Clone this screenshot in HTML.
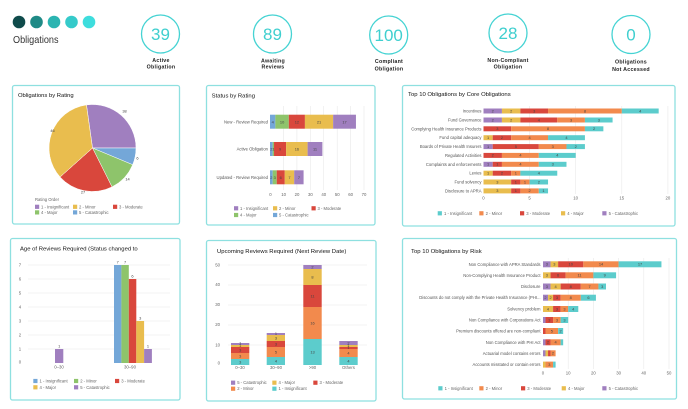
<!DOCTYPE html>
<html><head><meta charset="utf-8"><style>
html,body{margin:0;padding:0;background:#fff;width:688px;height:409px;overflow:hidden}
svg{display:block;font-family:"Liberation Sans",Arial,sans-serif}
.t{font-size:5.8px;fill:#111}
.k{font-size:4.3px;fill:#666}
.c{font-size:4.2px;fill:#555}
.s{font-size:3.9px;fill:#444;text-anchor:middle}
.l{font-size:4.2px;fill:#666}
.g{stroke:#e8e8e8;stroke-width:0.6}
.p{fill:#fff;stroke:#8ee0e0;stroke-width:1.3}
.h{font-size:5.3px;font-weight:bold;fill:#222;text-anchor:middle;letter-spacing:0.25px}
.n{font-size:17px;fill:#3fcfcf;text-anchor:middle}
</style></head><body>
<svg width="688" height="409" viewBox="0 0 688 409" xmlns="http://www.w3.org/2000/svg">
<!-- header -->
<circle cx="19" cy="22" r="6.3" fill="#0f4b4b"/>
<circle cx="36.5" cy="22" r="6.3" fill="#1f8a86"/>
<circle cx="54" cy="22" r="6.3" fill="#2bb4b1"/>
<circle cx="71.5" cy="22" r="6.3" fill="#35caca"/>
<circle cx="89" cy="22" r="6.3" fill="#3edddd"/>
<text x="13" y="43" font-size="10.5" fill="#333" textLength="45.5" lengthAdjust="spacingAndGlyphs">Obligations</text>

<circle cx="160.5" cy="34" r="19" fill="none" stroke="#45d3d3" stroke-width="1.3"/>
<text class="n" x="160.5" y="40">39</text>
<text class="h" x="161" y="62">Active</text><text class="h" x="161" y="68.7">Obligation</text>

<circle cx="272.5" cy="34" r="19" fill="none" stroke="#45d3d3" stroke-width="1.3"/>
<text class="n" x="272.5" y="40">89</text>
<text class="h" x="273" y="62.5">Awaiting</text><text class="h" x="273" y="68.7">Reviews</text>

<circle cx="388.7" cy="35" r="19" fill="none" stroke="#45d3d3" stroke-width="1.3"/>
<text class="n" x="388.7" y="41" font-size="16">100</text>
<text class="h" x="389" y="63">Compliant</text><text class="h" x="389" y="70.5">Obligation</text>

<circle cx="508" cy="33" r="19" fill="none" stroke="#45d3d3" stroke-width="1.3"/>
<text class="n" x="508" y="39">28</text>
<text class="h" x="508" y="62">Non-Compliant</text><text class="h" x="508" y="68.5">Obligation</text>

<circle cx="631" cy="34.5" r="19" fill="none" stroke="#45d3d3" stroke-width="1.3"/>
<text class="n" x="631" y="40.5">0</text>
<text class="h" x="631" y="63.5">Obligations</text><text class="h" x="631" y="71">Not Accessed</text>

<!-- Panel 1 -->
<rect class="p" x="12.5" y="85.5" width="167" height="138.5" rx="2"/>
<text class="t" x="18" y="97" textLength="55.7" lengthAdjust="spacingAndGlyphs">Obligations by Rating</text>
<g stroke="#fff" stroke-width="0.5">
<path d="M92.5,148 L86.45,104.92 A43.5,43.5 0 0 1 136,148 Z" fill="#a07fbf"/>
<path d="M92.5,148 L136,148 A43.5,43.5 0 0 1 132.66,164.72 Z" fill="#74a7d8"/>
<path d="M92.5,148 L132.66,164.72 A43.5,43.5 0 0 1 111.98,186.9 Z" fill="#8ec46b"/>
<path d="M92.5,148 L111.98,186.9 A43.5,43.5 0 0 1 60.09,177.01 Z" fill="#d9473c"/>
<path d="M92.5,148 L60.09,177.01 A43.5,43.5 0 0 1 86.45,104.92 Z" fill="#e9bd4e"/>
</g>
<text class="s" x="124.5" y="112.5">38</text>
<text class="s" x="52.5" y="132">46</text>
<text class="s" x="137.5" y="159.5">6</text>
<text class="s" x="127.5" y="180.5">14</text>
<text class="s" x="83" y="193.5">27</text>
<text class="l" x="35" y="201">Rating Order</text>
<rect x="35" y="204.7" width="4.2" height="4.2" fill="#a07fbf"/><text class="l" x="41" y="208.3">1 - Insignificant</text>
<rect x="73" y="204.7" width="4.2" height="4.2" fill="#e9bd4e"/><text class="l" x="79" y="208.3">2 - Minor</text>
<rect x="113" y="204.7" width="4.2" height="4.2" fill="#d9473c"/><text class="l" x="119" y="208.3">3 - Moderate</text>
<rect x="35" y="210.3" width="4.2" height="4.2" fill="#8ec46b"/><text class="l" x="41" y="213.9">4 - Major</text>
<rect x="73" y="210.3" width="4.2" height="4.2" fill="#74a7d8"/><text class="l" x="79" y="213.9">5 - Catastrophic</text>

<!-- Panel 2 -->
<rect class="p" x="206.5" y="85.5" width="168.5" height="139.5" rx="2"/>
<text class="t" x="211.7" y="97.5" textLength="43.3" lengthAdjust="spacingAndGlyphs">Status by Rating</text>
<g class="g">
<line x1="283.4" y1="106" x2="283.4" y2="190"/><line x1="296.9" y1="106" x2="296.9" y2="190"/>
<line x1="310.3" y1="106" x2="310.3" y2="190"/><line x1="323.7" y1="106" x2="323.7" y2="190"/>
<line x1="337.2" y1="106" x2="337.2" y2="190"/><line x1="350.6" y1="106" x2="350.6" y2="190"/>
<line x1="364" y1="106" x2="364" y2="190"/>
</g>
<g>
<rect x="270" y="114.7" width="5.37" height="14" fill="#74a7d8"/>
<rect x="275.37" y="114.7" width="13.43" height="14" fill="#8ec46b"/>
<rect x="288.8" y="114.7" width="16.12" height="14" fill="#d9473c"/>
<rect x="304.92" y="114.7" width="28.2" height="14" fill="#e9bd4e"/>
<rect x="333.12" y="114.7" width="22.83" height="14" fill="#a07fbf"/>
<rect x="270" y="142" width="2.69" height="14" fill="#74a7d8"/>
<rect x="272.69" y="142" width="1.34" height="14" fill="#8ec46b"/>
<rect x="274.03" y="142" width="12.09" height="14" fill="#d9473c"/>
<rect x="286.12" y="142" width="21.49" height="14" fill="#e9bd4e"/>
<rect x="307.61" y="142" width="14.77" height="14" fill="#a07fbf"/>
<rect x="270" y="170.3" width="2.69" height="14" fill="#74a7d8"/>
<rect x="272.69" y="170.3" width="4.03" height="14" fill="#8ec46b"/>
<rect x="276.72" y="170.3" width="8.06" height="14" fill="#d9473c"/>
<rect x="284.78" y="170.3" width="9.4" height="14" fill="#e9bd4e"/>
<rect x="294.18" y="170.3" width="9.4" height="14" fill="#a07fbf"/>
</g>
<text class="s" x="272.7" y="123.3">4</text><text class="s" x="282.1" y="123.3">10</text><text class="s" x="296.9" y="123.3">12</text><text class="s" x="319" y="123.3">21</text><text class="s" x="344.5" y="123.3">17</text>
<text class="s" x="271.3" y="150.6">2</text><text class="s" x="273.5" y="150.6">1</text><text class="s" x="280.1" y="150.6">9</text><text class="s" x="296.9" y="150.6">16</text><text class="s" x="315" y="150.6">11</text>
<text class="s" x="271.3" y="178.9">2</text><text class="s" x="274.7" y="178.9">3</text><text class="s" x="280.75" y="178.9">6</text><text class="s" x="289.5" y="178.9">7</text><text class="s" x="298.9" y="178.9">7</text>
<g class="c" text-anchor="end">
<text x="268" y="123.3">New - Review Required</text>
<text x="268" y="150.6">Active Obligation</text>
<text x="268" y="178.9">Updated - Review Required</text>
</g>
<g class="k" text-anchor="middle">
<text x="270.5" y="196">0</text><text x="283.6" y="196">10</text><text x="297" y="196">20</text><text x="310.4" y="196">30</text><text x="323.8" y="196">40</text><text x="337.3" y="196">50</text><text x="350.7" y="196">60</text><text x="364" y="196">70</text>
</g>
<rect x="234" y="206.2" width="4.2" height="4.2" fill="#a07fbf"/><text class="l" x="240" y="209.8">1 - Insignificant</text>
<rect x="273" y="206.2" width="4.2" height="4.2" fill="#e9bd4e"/><text class="l" x="279" y="209.8">2 - Minor</text>
<rect x="311.5" y="206.2" width="4.2" height="4.2" fill="#d9473c"/><text class="l" x="317.5" y="209.8">3 - Moderate</text>
<rect x="234" y="212.9" width="4.2" height="4.2" fill="#8ec46b"/><text class="l" x="240" y="216.5">4 - Major</text>
<rect x="273" y="212.9" width="4.2" height="4.2" fill="#74a7d8"/><text class="l" x="279" y="216.5">5 - Catastrophic</text>

<!-- Panel 3 -->
<rect class="p" x="402.5" y="85.5" width="272.5" height="140.5" rx="2"/>
<text class="t" x="408" y="96" textLength="102.7" lengthAdjust="spacingAndGlyphs">Top 10 Obligations by Core Obligations</text>
<g class="g">
<line x1="529.6" y1="106" x2="529.6" y2="194"/><line x1="575.7" y1="106" x2="575.7" y2="194"/>
<line x1="621.8" y1="106" x2="621.8" y2="194"/><line x1="667.9" y1="106" x2="667.9" y2="194"/>
</g>
<g>
<!-- r1 -->
<rect x="483.5" y="108.5" width="18.44" height="5" fill="#a07fbf"/><rect x="501.94" y="108.5" width="18.44" height="5" fill="#e9bd4e"/><rect x="520.38" y="108.5" width="27.66" height="5" fill="#d9473c"/><rect x="548.04" y="108.5" width="73.76" height="5" fill="#f28a4d"/><rect x="621.8" y="108.5" width="36.88" height="5" fill="#5ccccc"/>
<!-- r2 -->
<rect x="483.5" y="117.5" width="18.44" height="5" fill="#a07fbf"/><rect x="501.94" y="117.5" width="18.44" height="5" fill="#e9bd4e"/><rect x="520.38" y="117.5" width="36.88" height="5" fill="#d9473c"/><rect x="557.26" y="117.5" width="27.66" height="5" fill="#f28a4d"/><rect x="584.92" y="117.5" width="27.66" height="5" fill="#5ccccc"/>
<!-- r3 -->
<rect x="483.5" y="126.3" width="27.66" height="5" fill="#d9473c"/><rect x="511.16" y="126.3" width="73.76" height="5" fill="#f28a4d"/><rect x="584.92" y="126.3" width="18.44" height="5" fill="#5ccccc"/>
<!-- r4 -->
<rect x="483.5" y="135.2" width="9.22" height="5" fill="#e9bd4e"/><rect x="492.72" y="135.2" width="18.44" height="5" fill="#d9473c"/><rect x="511.16" y="135.2" width="36.88" height="5" fill="#f28a4d"/><rect x="548.04" y="135.2" width="36.88" height="5" fill="#5ccccc"/>
<!-- r5 -->
<rect x="483.5" y="144.1" width="9.22" height="5" fill="#a07fbf"/><rect x="492.72" y="144.1" width="46.1" height="5" fill="#d9473c"/><rect x="538.82" y="144.1" width="27.66" height="5" fill="#f28a4d"/><rect x="566.48" y="144.1" width="18.44" height="5" fill="#5ccccc"/>
<!-- r6 -->
<rect x="483.5" y="152.9" width="18.44" height="5" fill="#d9473c"/><rect x="501.94" y="152.9" width="36.88" height="5" fill="#f28a4d"/><rect x="538.82" y="152.9" width="36.88" height="5" fill="#5ccccc"/>
<!-- r7 -->
<rect x="483.5" y="161.8" width="9.22" height="5" fill="#a07fbf"/><rect x="492.72" y="161.8" width="9.22" height="5" fill="#d9473c"/><rect x="501.94" y="161.8" width="36.88" height="5" fill="#f28a4d"/><rect x="538.82" y="161.8" width="27.66" height="5" fill="#5ccccc"/>
<!-- r8 -->
<rect x="483.5" y="170.7" width="9.22" height="5" fill="#e9bd4e"/><rect x="492.72" y="170.7" width="18.44" height="5" fill="#d9473c"/><rect x="511.16" y="170.7" width="9.22" height="5" fill="#f28a4d"/><rect x="520.38" y="170.7" width="36.88" height="5" fill="#5ccccc"/>
<!-- r9 -->
<rect x="483.5" y="179.5" width="27.66" height="5" fill="#e9bd4e"/><rect x="511.16" y="179.5" width="9.22" height="5" fill="#d9473c"/><rect x="520.38" y="179.5" width="9.22" height="5" fill="#f28a4d"/><rect x="529.6" y="179.5" width="18.44" height="5" fill="#5ccccc"/>
<!-- r10 -->
<rect x="483.5" y="188.4" width="27.66" height="5" fill="#e9bd4e"/><rect x="511.16" y="188.4" width="9.22" height="5" fill="#d9473c"/><rect x="520.38" y="188.4" width="18.44" height="5" fill="#f28a4d"/><rect x="538.82" y="188.4" width="9.22" height="5" fill="#5ccccc"/>
</g>
<g class="s" font-size="3.6">
<text x="492.7" y="112.3">2</text><text x="511.2" y="112.3">2</text><text x="534.2" y="112.3">3</text><text x="584.9" y="112.3">8</text><text x="640.2" y="112.3">4</text>
<text x="492.7" y="121.3">2</text><text x="511.2" y="121.3">2</text><text x="538.8" y="121.3">4</text><text x="571.1" y="121.3">3</text><text x="598.8" y="121.3">3</text>
<text x="497.3" y="130.1">3</text><text x="548" y="130.1">8</text><text x="594.1" y="130.1">2</text>
<text x="488.1" y="139">1</text><text x="501.9" y="139">2</text><text x="529.6" y="139">4</text><text x="566.5" y="139">4</text>
<text x="488.1" y="147.9">1</text><text x="515.8" y="147.9">5</text><text x="552.7" y="147.9">3</text><text x="575.7" y="147.9">2</text>
<text x="492.7" y="156.7">2</text><text x="520.4" y="156.7">4</text><text x="557.3" y="156.7">4</text>
<text x="488.1" y="165.6">1</text><text x="497.3" y="165.6">1</text><text x="520.4" y="165.6">4</text><text x="552.7" y="165.6">3</text>
<text x="488.1" y="174.5">1</text><text x="501.9" y="174.5">2</text><text x="515.8" y="174.5">1</text><text x="538.8" y="174.5">4</text>
<text x="497.3" y="183.3">3</text><text x="515.8" y="183.3">1</text><text x="525" y="183.3">1</text><text x="538.8" y="183.3">2</text>
<text x="497.3" y="192.2">3</text><text x="515.8" y="192.2">1</text><text x="529.6" y="192.2">2</text><text x="543.4" y="192.2">1</text>
</g>
<g class="c" text-anchor="end">
<text x="481.5" y="112.5">Incentives</text>
<text x="481.5" y="121.5">Fund Governance</text>
<text x="481.5" y="130.3">Complying Health Insurance Products</text>
<text x="481.5" y="139.2">Fund capital adequacy</text>
<text x="481.5" y="148.1">Boards of Private Health Insurers</text>
<text x="481.5" y="156.9">Regulated Activities</text>
<text x="481.5" y="165.8">Complaints and enforcements</text>
<text x="481.5" y="174.7">Levies</text>
<text x="481.5" y="183.5">Fund solvency</text>
<text x="481.5" y="192.4">Disclosure to APRA</text>
</g>
<g class="k" text-anchor="middle">
<text x="483.5" y="199.5">0</text><text x="529.6" y="199.5">5</text><text x="575.7" y="199.5">10</text><text x="621.8" y="199.5">15</text><text x="667.9" y="199.5">20</text>
</g>
<rect x="437.7" y="211.2" width="4.2" height="4.2" fill="#5ccccc"/><text class="l" x="444" y="214.8">1 - Insignificant</text>
<rect x="479.3" y="211.2" width="4.2" height="4.2" fill="#f28a4d"/><text class="l" x="485.6" y="214.8">2 - Minor</text>
<rect x="520" y="211.2" width="4.2" height="4.2" fill="#d9473c"/><text class="l" x="526.3" y="214.8">3 - Moderate</text>
<rect x="561" y="211.2" width="4.2" height="4.2" fill="#e9bd4e"/><text class="l" x="567.3" y="214.8">4 - Major</text>
<rect x="602.3" y="211.2" width="4.2" height="4.2" fill="#a07fbf"/><text class="l" x="608.6" y="214.8">5 - Catastrophic</text>

<!-- Panel 4 -->
<rect class="p" x="10.5" y="238.5" width="169.5" height="161.5" rx="2"/>
<text class="t" x="20" y="250.5" textLength="117.7" lengthAdjust="spacingAndGlyphs">Age of Reviews Required (Status changed to</text>
<g class="g">
<line x1="28" y1="265" x2="170" y2="265"/><line x1="28" y1="279" x2="170" y2="279"/><line x1="28" y1="293" x2="170" y2="293"/>
<line x1="28" y1="307" x2="170" y2="307"/><line x1="28" y1="321" x2="170" y2="321"/><line x1="28" y1="335" x2="170" y2="335"/>
<line x1="28" y1="349" x2="170" y2="349"/>
</g>
<g class="k" text-anchor="middle">
<text x="20" y="266.5">7</text><text x="20" y="280.5">6</text><text x="20" y="294.5">5</text><text x="20" y="308.5">4</text><text x="20" y="322.5">3</text><text x="20" y="336.5">2</text><text x="20" y="350.5">1</text><text x="20" y="363.5">0</text>
</g>
<rect x="55" y="349" width="8.3" height="14" fill="#a07fbf"/>
<rect x="114" y="265" width="7.4" height="98" fill="#74a7d8"/>
<rect x="121.4" y="265" width="7.4" height="98" fill="#8ec46b"/>
<rect x="128.8" y="279" width="7.5" height="84" fill="#d9473c"/>
<rect x="136.3" y="321" width="7.8" height="42" fill="#e9bd4e"/>
<rect x="144.1" y="349" width="7.8" height="14" fill="#a07fbf"/>
<g class="s" font-size="4">
<text x="59.2" y="347.5">1</text><text x="117.7" y="263.5">7</text><text x="125.1" y="263.5">7</text><text x="132.5" y="277.5">6</text><text x="140.2" y="319.5">3</text><text x="148" y="347.5">1</text>
</g>
<g class="k" text-anchor="middle"><text x="59" y="368.5">0–30</text><text x="130" y="368.5">30–90</text></g>
<rect x="33.3" y="378.9" width="4.2" height="4.2" fill="#74a7d8"/><text class="l" x="39.5" y="382.5">1 - Insignificant</text>
<rect x="74" y="378.9" width="4.2" height="4.2" fill="#8ec46b"/><text class="l" x="80.2" y="382.5">2 - Minor</text>
<rect x="115" y="378.9" width="4.2" height="4.2" fill="#d9473c"/><text class="l" x="121.2" y="382.5">3 - Moderate</text>
<rect x="33.3" y="385.2" width="4.2" height="4.2" fill="#e9bd4e"/><text class="l" x="39.5" y="388.8">4 - Major</text>
<rect x="74" y="385.2" width="4.2" height="4.2" fill="#a07fbf"/><text class="l" x="80.2" y="388.8">5 - Catastrophic</text>

<!-- Panel 5 -->
<rect class="p" x="206.5" y="240.5" width="169.5" height="160.5" rx="2"/>
<text class="t" x="217" y="253" textLength="129.3" lengthAdjust="spacingAndGlyphs">Upcoming Reviews Required (Next Review Date)</text>
<g class="g">
<line x1="228" y1="265" x2="367" y2="265"/><line x1="228" y1="285" x2="367" y2="285"/><line x1="228" y1="305" x2="367" y2="305"/>
<line x1="228" y1="325" x2="367" y2="325"/><line x1="228" y1="345" x2="367" y2="345"/>
</g>
<g class="k" text-anchor="end">
<text x="220" y="266.5">50</text><text x="220" y="286">40</text><text x="220" y="306">30</text><text x="220" y="326">20</text><text x="220" y="346.5">10</text><text x="220" y="364.3">0</text>
</g>
<g>
<rect x="231" y="359" width="18.3" height="6" fill="#5ccccc"/><rect x="231" y="353" width="18.3" height="6" fill="#f28a4d"/><rect x="231" y="347" width="18.3" height="6" fill="#d9473c"/><rect x="231" y="345" width="18.3" height="2" fill="#e9bd4e"/><rect x="231" y="343" width="18.3" height="2" fill="#a07fbf"/>
<rect x="266.7" y="357" width="18.3" height="8" fill="#5ccccc"/><rect x="266.7" y="347" width="18.3" height="10" fill="#f28a4d"/><rect x="266.7" y="341" width="18.3" height="6" fill="#d9473c"/><rect x="266.7" y="335" width="18.3" height="6" fill="#e9bd4e"/><rect x="266.7" y="333" width="18.3" height="2" fill="#a07fbf"/>
<rect x="303.3" y="339" width="18.4" height="26" fill="#5ccccc"/><rect x="303.3" y="307" width="18.4" height="32" fill="#f28a4d"/><rect x="303.3" y="285" width="18.4" height="22" fill="#d9473c"/><rect x="303.3" y="269" width="18.4" height="16" fill="#e9bd4e"/><rect x="303.3" y="265" width="18.4" height="4" fill="#a07fbf"/>
<rect x="339.3" y="357" width="18.4" height="8" fill="#5ccccc"/><rect x="339.3" y="349" width="18.4" height="8" fill="#f28a4d"/><rect x="339.3" y="347" width="18.4" height="2" fill="#d9473c"/><rect x="339.3" y="345" width="18.4" height="2" fill="#e9bd4e"/><rect x="339.3" y="341" width="18.4" height="4" fill="#a07fbf"/>
</g>
<g class="s" font-size="3.8">
<text x="240.2" y="363.3">3</text><text x="240.2" y="357.3">3</text><text x="240.2" y="351.3">3</text><text x="240.2" y="346.8">1</text><text x="240.2" y="344.5">1</text>
<text x="275.9" y="362.3">4</text><text x="275.9" y="353.3">5</text><text x="275.9" y="345.3">3</text><text x="275.9" y="339.3">3</text><text x="275.9" y="335">1</text>
<text x="312.5" y="353.3">13</text><text x="312.5" y="324.3">16</text><text x="312.5" y="297.3">11</text><text x="312.5" y="278.3">8</text><text x="312.5" y="268.3">2</text>
<text x="348.5" y="362.3">4</text><text x="348.5" y="354.3">4</text><text x="348.5" y="349.2">1</text><text x="348.5" y="346.8">1</text><text x="348.5" y="344.3">2</text>
</g>
<g class="k" text-anchor="middle"><text x="240" y="369">0–30</text><text x="276" y="369">30–90</text><text x="312.5" y="369">&gt;90</text><text x="348.5" y="369">Others</text></g>
<rect x="231" y="380.6" width="4.2" height="4.2" fill="#a07fbf"/><text class="l" x="237.2" y="384.2">5 - Catastrophic</text>
<rect x="272.3" y="380.6" width="4.2" height="4.2" fill="#e9bd4e"/><text class="l" x="278.5" y="384.2">4 - Major</text>
<rect x="313.3" y="380.6" width="4.2" height="4.2" fill="#d9473c"/><text class="l" x="319.5" y="384.2">3 - Moderate</text>
<rect x="231" y="386.6" width="4.2" height="4.2" fill="#f28a4d"/><text class="l" x="237.2" y="390.2">2 - Minor</text>
<rect x="272.3" y="386.6" width="4.2" height="4.2" fill="#5ccccc"/><text class="l" x="278.5" y="390.2">1 - Insignificant</text>

<!-- Panel 6 -->
<rect class="p" x="402.5" y="238.5" width="274" height="160.5" rx="2"/>
<text class="t" x="411" y="253" textLength="70.7" lengthAdjust="spacingAndGlyphs">Top 10 Obligations by Risk</text>
<g class="g">
<line x1="568.2" y1="258" x2="568.2" y2="369"/><line x1="593.4" y1="258" x2="593.4" y2="369"/><line x1="618.6" y1="258" x2="618.6" y2="369"/>
<line x1="643.8" y1="258" x2="643.8" y2="369"/><line x1="669" y1="258" x2="669" y2="369"/>
</g>
<g>
<rect x="543" y="261.3" width="7.56" height="6" fill="#a07fbf"/><rect x="550.56" y="261.3" width="7.56" height="6" fill="#e9bd4e"/><rect x="558.12" y="261.3" width="25.2" height="6" fill="#d9473c"/><rect x="583.32" y="261.3" width="35.28" height="6" fill="#f28a4d"/><rect x="618.6" y="261.3" width="42.84" height="6" fill="#5ccccc"/>
<rect x="543" y="272.3" width="7.56" height="6" fill="#e9bd4e"/><rect x="550.56" y="272.3" width="15.12" height="6" fill="#d9473c"/><rect x="565.68" y="272.3" width="27.72" height="6" fill="#f28a4d"/><rect x="593.4" y="272.3" width="22.68" height="6" fill="#5ccccc"/>
<rect x="543" y="283.5" width="7.56" height="6" fill="#a07fbf"/><rect x="550.56" y="283.5" width="10.08" height="6" fill="#e9bd4e"/><rect x="560.64" y="283.5" width="20.16" height="6" fill="#d9473c"/><rect x="580.8" y="283.5" width="17.64" height="6" fill="#f28a4d"/><rect x="598.44" y="283.5" width="7.56" height="6" fill="#5ccccc"/>
<rect x="543" y="294.7" width="5.04" height="6" fill="#a07fbf"/><rect x="548.04" y="294.7" width="5.04" height="6" fill="#e9bd4e"/><rect x="553.08" y="294.7" width="7.56" height="6" fill="#d9473c"/><rect x="560.64" y="294.7" width="20.16" height="6" fill="#f28a4d"/><rect x="580.8" y="294.7" width="15.12" height="6" fill="#5ccccc"/>
<rect x="543" y="306" width="10.08" height="6" fill="#e9bd4e"/><rect x="553.08" y="306" width="7.56" height="6" fill="#d9473c"/><rect x="560.64" y="306" width="7.56" height="6" fill="#f28a4d"/><rect x="568.2" y="306" width="10.08" height="6" fill="#5ccccc"/>
<rect x="543" y="317" width="2.52" height="6" fill="#a07fbf"/><rect x="545.52" y="317" width="7.56" height="6" fill="#d9473c"/><rect x="553.08" y="317" width="7.56" height="6" fill="#f28a4d"/><rect x="560.64" y="317" width="7.56" height="6" fill="#5ccccc"/>
<rect x="543" y="328" width="2.52" height="6" fill="#d9473c"/><rect x="545.52" y="328" width="12.6" height="6" fill="#f28a4d"/><rect x="558.12" y="328" width="5.04" height="6" fill="#5ccccc"/>
<rect x="543" y="339.3" width="2.52" height="6" fill="#a07fbf"/><rect x="545.52" y="339.3" width="5.04" height="6" fill="#d9473c"/><rect x="550.56" y="339.3" width="10.08" height="6" fill="#f28a4d"/><rect x="560.64" y="339.3" width="2.52" height="6" fill="#5ccccc"/>
<rect x="543" y="350.3" width="2.52" height="6" fill="#a07fbf"/><rect x="545.52" y="350.3" width="2.52" height="6" fill="#e9bd4e"/><rect x="548.04" y="350.3" width="2.52" height="6" fill="#d9473c"/><rect x="550.56" y="350.3" width="5.04" height="6" fill="#f28a4d"/>
<rect x="543" y="361.6" width="2.52" height="6" fill="#e9bd4e"/><rect x="545.52" y="361.6" width="7.56" height="6" fill="#f28a4d"/><rect x="553.08" y="361.6" width="2.52" height="6" fill="#5ccccc"/>
</g>
<g class="s" font-size="3.6">
<text x="546.8" y="265.6">3</text><text x="554.3" y="265.6">3</text><text x="570.7" y="265.6">10</text><text x="601" y="265.6">14</text><text x="640" y="265.6">17</text>
<text x="546.8" y="276.6">3</text><text x="558.1" y="276.6">6</text><text x="579.5" y="276.6">11</text><text x="604.7" y="276.6">9</text>
<text x="546.8" y="287.8">3</text><text x="555.6" y="287.8">4</text><text x="570.7" y="287.8">8</text><text x="589.6" y="287.8">7</text><text x="602.2" y="287.8">3</text>
<text x="545.5" y="299">2</text><text x="550.6" y="299">2</text><text x="556.9" y="299">3</text><text x="570.7" y="299">8</text><text x="588.4" y="299">6</text>
<text x="548" y="310.3">4</text><text x="556.9" y="310.3">3</text><text x="564.4" y="310.3">3</text><text x="573.2" y="310.3">4</text>
<text x="549.3" y="321.3">3</text><text x="556.9" y="321.3">3</text><text x="564.4" y="321.3">3</text>
<text x="551.8" y="332.3">5</text><text x="560.6" y="332.3">2</text>
<text x="548" y="343.6">2</text><text x="555.6" y="343.6">4</text>
<text x="553" y="354.6">2</text>
<text x="549.3" y="365.9">3</text>
</g>
<g class="c" text-anchor="end">
<text x="540.5" y="265.8">Non Compliance with APRA Standards</text>
<text x="540.5" y="276.8">Non-Complying Health Insurance Product</text>
<text x="540.5" y="288">Disclosure</text>
<text x="540.5" y="299.2">Discounts do not comply with the Private Health Insurance (PHI...</text>
<text x="540.5" y="310.5">Solvency problem</text>
<text x="540.5" y="321.5">Non Compliance with Corporations Act</text>
<text x="540.5" y="332.5">Premium discounts offered are non-compliant</text>
<text x="540.5" y="343.8">Non Compliance with PHI Act</text>
<text x="540.5" y="354.8">Actuarial model contains errors</text>
<text x="540.5" y="366.1">Accounts misstated or contain errors</text>
</g>
<g class="k" text-anchor="middle">
<text x="543" y="374.5">0</text><text x="568.2" y="374.5">10</text><text x="593.4" y="374.5">20</text><text x="618.6" y="374.5">30</text><text x="643.8" y="374.5">40</text><text x="669" y="374.5">50</text>
</g>
<rect x="438.3" y="386.2" width="4.2" height="4.2" fill="#5ccccc"/><text class="l" x="444.6" y="389.8">1 - Insignificant</text>
<rect x="479.3" y="386.2" width="4.2" height="4.2" fill="#f28a4d"/><text class="l" x="485.6" y="389.8">2 - Minor</text>
<rect x="521" y="386.2" width="4.2" height="4.2" fill="#d9473c"/><text class="l" x="527.3" y="389.8">3 - Moderate</text>
<rect x="561.7" y="386.2" width="4.2" height="4.2" fill="#e9bd4e"/><text class="l" x="568" y="389.8">4 - Major</text>
<rect x="602.3" y="386.2" width="4.2" height="4.2" fill="#a07fbf"/><text class="l" x="608.6" y="389.8">5 - Catastrophic</text>
</svg>
</body></html>
